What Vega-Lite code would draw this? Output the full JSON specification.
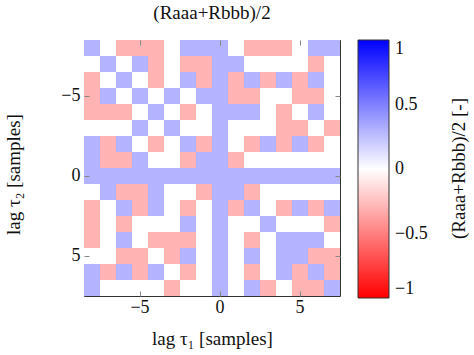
{
"$schema": "https://vega.github.io/schema/vega-lite/v6.json",
"width": 256, "height": 256,
"autosize": {"type": "none"},
"padding": {"left": 84, "top": 40, "right": 134, "bottom": 59},
"config": {"view": {"stroke": "#333", "strokeWidth": 1}, "font": "Liberation Serif",
 "axis": {"labelFont": "Liberation Serif", "titleFont": "Liberation Serif"},
 "legend": {"labelFont": "Liberation Serif", "titleFont": "Liberation Serif"}},
"title": {"text": "(Raaa+Rbbb)/2", "font": "Liberation Serif", "fontSize": 19, "fontWeight": "normal", "color": "#111", "offset": 17, "anchor": "middle"},
"data": {"values": [
{"t1":-8,"t2":-8,"r":0.3},{"t1":-7,"t2":-8,"r":0},{"t1":-6,"t2":-8,"r":-0.3},{"t1":-5,"t2":-8,"r":-0.3},{"t1":-4,"t2":-8,"r":-0.3},{"t1":-3,"t2":-8,"r":0},{"t1":-2,"t2":-8,"r":0.3},{"t1":-1,"t2":-8,"r":0.3},{"t1":0,"t2":-8,"r":0.3},{"t1":1,"t2":-8,"r":0},{"t1":2,"t2":-8,"r":-0.3},{"t1":3,"t2":-8,"r":-0.3},{"t1":4,"t2":-8,"r":-0.3},{"t1":5,"t2":-8,"r":0},{"t1":6,"t2":-8,"r":0.3},{"t1":7,"t2":-8,"r":0.3},
{"t1":-8,"t2":-7,"r":0},{"t1":-7,"t2":-7,"r":0.3},{"t1":-6,"t2":-7,"r":0},{"t1":-5,"t2":-7,"r":0.3},{"t1":-4,"t2":-7,"r":-0.3},{"t1":-3,"t2":-7,"r":0},{"t1":-2,"t2":-7,"r":-0.3},{"t1":-1,"t2":-7,"r":-0.3},{"t1":0,"t2":-7,"r":0.3},{"t1":1,"t2":-7,"r":0.3},{"t1":2,"t2":-7,"r":0},{"t1":3,"t2":-7,"r":0},{"t1":4,"t2":-7,"r":0},{"t1":5,"t2":-7,"r":0},{"t1":6,"t2":-7,"r":-0.3},{"t1":7,"t2":-7,"r":0},
{"t1":-8,"t2":-6,"r":-0.3},{"t1":-7,"t2":-6,"r":0},{"t1":-6,"t2":-6,"r":0.3},{"t1":-5,"t2":-6,"r":0},{"t1":-4,"t2":-6,"r":-0.3},{"t1":-3,"t2":-6,"r":0},{"t1":-2,"t2":-6,"r":0.3},{"t1":-1,"t2":-6,"r":-0.3},{"t1":0,"t2":-6,"r":0.3},{"t1":1,"t2":-6,"r":-0.3},{"t1":2,"t2":-6,"r":0.3},{"t1":3,"t2":-6,"r":-0.3},{"t1":4,"t2":-6,"r":0.3},{"t1":5,"t2":-6,"r":-0.3},{"t1":6,"t2":-6,"r":0.3},{"t1":7,"t2":-6,"r":0},
{"t1":-8,"t2":-5,"r":-0.3},{"t1":-7,"t2":-5,"r":0.3},{"t1":-6,"t2":-5,"r":0},{"t1":-5,"t2":-5,"r":0.3},{"t1":-4,"t2":-5,"r":0},{"t1":-3,"t2":-5,"r":0.3},{"t1":-2,"t2":-5,"r":0},{"t1":-1,"t2":-5,"r":0.3},{"t1":0,"t2":-5,"r":0.3},{"t1":1,"t2":-5,"r":-0.3},{"t1":2,"t2":-5,"r":-0.3},{"t1":3,"t2":-5,"r":0},{"t1":4,"t2":-5,"r":0},{"t1":5,"t2":-5,"r":-0.3},{"t1":6,"t2":-5,"r":-0.3},{"t1":7,"t2":-5,"r":0},
{"t1":-8,"t2":-4,"r":-0.3},{"t1":-7,"t2":-4,"r":-0.3},{"t1":-6,"t2":-4,"r":-0.3},{"t1":-5,"t2":-4,"r":0},{"t1":-4,"t2":-4,"r":0.3},{"t1":-3,"t2":-4,"r":0},{"t1":-2,"t2":-4,"r":-0.3},{"t1":-1,"t2":-4,"r":0},{"t1":0,"t2":-4,"r":0.3},{"t1":1,"t2":-4,"r":0.3},{"t1":2,"t2":-4,"r":0.3},{"t1":3,"t2":-4,"r":0},{"t1":4,"t2":-4,"r":-0.3},{"t1":5,"t2":-4,"r":0},{"t1":6,"t2":-4,"r":0.3},{"t1":7,"t2":-4,"r":0},
{"t1":-8,"t2":-3,"r":0},{"t1":-7,"t2":-3,"r":0},{"t1":-6,"t2":-3,"r":0},{"t1":-5,"t2":-3,"r":0.3},{"t1":-4,"t2":-3,"r":0},{"t1":-3,"t2":-3,"r":0.3},{"t1":-2,"t2":-3,"r":0},{"t1":-1,"t2":-3,"r":0},{"t1":0,"t2":-3,"r":0.3},{"t1":1,"t2":-3,"r":0},{"t1":2,"t2":-3,"r":0},{"t1":3,"t2":-3,"r":0},{"t1":4,"t2":-3,"r":-0.3},{"t1":5,"t2":-3,"r":-0.3},{"t1":6,"t2":-3,"r":0},{"t1":7,"t2":-3,"r":-0.3},
{"t1":-8,"t2":-2,"r":0.3},{"t1":-7,"t2":-2,"r":-0.3},{"t1":-6,"t2":-2,"r":0.3},{"t1":-5,"t2":-2,"r":0},{"t1":-4,"t2":-2,"r":-0.3},{"t1":-3,"t2":-2,"r":0},{"t1":-2,"t2":-2,"r":0.3},{"t1":-1,"t2":-2,"r":-0.3},{"t1":0,"t2":-2,"r":0.3},{"t1":1,"t2":-2,"r":0},{"t1":2,"t2":-2,"r":-0.3},{"t1":3,"t2":-2,"r":0.3},{"t1":4,"t2":-2,"r":-0.3},{"t1":5,"t2":-2,"r":0.3},{"t1":6,"t2":-2,"r":-0.3},{"t1":7,"t2":-2,"r":0},
{"t1":-8,"t2":-1,"r":0.3},{"t1":-7,"t2":-1,"r":-0.3},{"t1":-6,"t2":-1,"r":-0.3},{"t1":-5,"t2":-1,"r":0.3},{"t1":-4,"t2":-1,"r":0},{"t1":-3,"t2":-1,"r":0},{"t1":-2,"t2":-1,"r":-0.3},{"t1":-1,"t2":-1,"r":0.3},{"t1":0,"t2":-1,"r":0.3},{"t1":1,"t2":-1,"r":-0.3},{"t1":2,"t2":-1,"r":0},{"t1":3,"t2":-1,"r":0},{"t1":4,"t2":-1,"r":0},{"t1":5,"t2":-1,"r":0},{"t1":6,"t2":-1,"r":0},{"t1":7,"t2":-1,"r":0},
{"t1":-8,"t2":0,"r":0.3},{"t1":-7,"t2":0,"r":0.3},{"t1":-6,"t2":0,"r":0.3},{"t1":-5,"t2":0,"r":0.3},{"t1":-4,"t2":0,"r":0.3},{"t1":-3,"t2":0,"r":0.3},{"t1":-2,"t2":0,"r":0.3},{"t1":-1,"t2":0,"r":0.3},{"t1":0,"t2":0,"r":0.3},{"t1":1,"t2":0,"r":0.3},{"t1":2,"t2":0,"r":0.3},{"t1":3,"t2":0,"r":0.3},{"t1":4,"t2":0,"r":0.3},{"t1":5,"t2":0,"r":0.3},{"t1":6,"t2":0,"r":0.3},{"t1":7,"t2":0,"r":0.3},
{"t1":-8,"t2":1,"r":0},{"t1":-7,"t2":1,"r":0.3},{"t1":-6,"t2":1,"r":-0.3},{"t1":-5,"t2":1,"r":-0.3},{"t1":-4,"t2":1,"r":0.3},{"t1":-3,"t2":1,"r":0},{"t1":-2,"t2":1,"r":0},{"t1":-1,"t2":1,"r":-0.3},{"t1":0,"t2":1,"r":0.3},{"t1":1,"t2":1,"r":0.3},{"t1":2,"t2":1,"r":-0.3},{"t1":3,"t2":1,"r":0},{"t1":4,"t2":1,"r":0},{"t1":5,"t2":1,"r":0},{"t1":6,"t2":1,"r":0},{"t1":7,"t2":1,"r":0},
{"t1":-8,"t2":2,"r":-0.3},{"t1":-7,"t2":2,"r":0},{"t1":-6,"t2":2,"r":0.3},{"t1":-5,"t2":2,"r":-0.3},{"t1":-4,"t2":2,"r":0.3},{"t1":-3,"t2":2,"r":0},{"t1":-2,"t2":2,"r":-0.3},{"t1":-1,"t2":2,"r":0},{"t1":0,"t2":2,"r":0.3},{"t1":1,"t2":2,"r":-0.3},{"t1":2,"t2":2,"r":0.3},{"t1":3,"t2":2,"r":0},{"t1":4,"t2":2,"r":-0.3},{"t1":5,"t2":2,"r":0.3},{"t1":6,"t2":2,"r":-0.3},{"t1":7,"t2":2,"r":0.3},
{"t1":-8,"t2":3,"r":-0.3},{"t1":-7,"t2":3,"r":0},{"t1":-6,"t2":3,"r":-0.3},{"t1":-5,"t2":3,"r":0},{"t1":-4,"t2":3,"r":0},{"t1":-3,"t2":3,"r":0},{"t1":-2,"t2":3,"r":0.3},{"t1":-1,"t2":3,"r":0},{"t1":0,"t2":3,"r":0.3},{"t1":1,"t2":3,"r":0},{"t1":2,"t2":3,"r":0},{"t1":3,"t2":3,"r":0.3},{"t1":4,"t2":3,"r":0},{"t1":5,"t2":3,"r":0},{"t1":6,"t2":3,"r":0},{"t1":7,"t2":3,"r":-0.3},
{"t1":-8,"t2":4,"r":-0.3},{"t1":-7,"t2":4,"r":0},{"t1":-6,"t2":4,"r":0.3},{"t1":-5,"t2":4,"r":0},{"t1":-4,"t2":4,"r":-0.3},{"t1":-3,"t2":4,"r":-0.3},{"t1":-2,"t2":4,"r":-0.3},{"t1":-1,"t2":4,"r":0},{"t1":0,"t2":4,"r":0.3},{"t1":1,"t2":4,"r":0},{"t1":2,"t2":4,"r":-0.3},{"t1":3,"t2":4,"r":0},{"t1":4,"t2":4,"r":0.3},{"t1":5,"t2":4,"r":0.3},{"t1":6,"t2":4,"r":0.3},{"t1":7,"t2":4,"r":0},
{"t1":-8,"t2":5,"r":0},{"t1":-7,"t2":5,"r":0},{"t1":-6,"t2":5,"r":-0.3},{"t1":-5,"t2":5,"r":-0.3},{"t1":-4,"t2":5,"r":0},{"t1":-3,"t2":5,"r":-0.3},{"t1":-2,"t2":5,"r":0.3},{"t1":-1,"t2":5,"r":0},{"t1":0,"t2":5,"r":0.3},{"t1":1,"t2":5,"r":0},{"t1":2,"t2":5,"r":0.3},{"t1":3,"t2":5,"r":0},{"t1":4,"t2":5,"r":0.3},{"t1":5,"t2":5,"r":0.3},{"t1":6,"t2":5,"r":-0.3},{"t1":7,"t2":5,"r":-0.3},
{"t1":-8,"t2":6,"r":0.3},{"t1":-7,"t2":6,"r":-0.3},{"t1":-6,"t2":6,"r":0.3},{"t1":-5,"t2":6,"r":-0.3},{"t1":-4,"t2":6,"r":0.3},{"t1":-3,"t2":6,"r":0},{"t1":-2,"t2":6,"r":-0.3},{"t1":-1,"t2":6,"r":0},{"t1":0,"t2":6,"r":0.3},{"t1":1,"t2":6,"r":0},{"t1":2,"t2":6,"r":-0.3},{"t1":3,"t2":6,"r":0},{"t1":4,"t2":6,"r":0.3},{"t1":5,"t2":6,"r":-0.3},{"t1":6,"t2":6,"r":0.3},{"t1":7,"t2":6,"r":-0.3},
{"t1":-8,"t2":7,"r":0.3},{"t1":-7,"t2":7,"r":0},{"t1":-6,"t2":7,"r":0},{"t1":-5,"t2":7,"r":0},{"t1":-4,"t2":7,"r":0},{"t1":-3,"t2":7,"r":-0.3},{"t1":-2,"t2":7,"r":0},{"t1":-1,"t2":7,"r":0},{"t1":0,"t2":7,"r":0.3},{"t1":1,"t2":7,"r":0},{"t1":2,"t2":7,"r":0.3},{"t1":3,"t2":7,"r":-0.3},{"t1":4,"t2":7,"r":0},{"t1":5,"t2":7,"r":-0.3},{"t1":6,"t2":7,"r":-0.3},{"t1":7,"t2":7,"r":0.3}
]},
"layer": [
{
"mark": {"type": "rect"},
"encoding": {
"x": {"field": "t1", "type": "ordinal", "scale": {"domain": [-8,-7,-6,-5,-4,-3,-2,-1,0,1,2,3,4,5,6,7], "paddingInner": 0, "paddingOuter": 0},
 "axis": {"orient": "bottom", "values": [-5,0,5], "domain": false, "tickSize": -5, "tickColor": "#888", "labelPadding": 7, "labelAngle": 0, "labelFont": "Liberation Serif", "labelFontSize": 18, "labelColor": "#111", "labelExpr": "datum.value < 0 ? '\u2212' + abs(datum.value) : '' + datum.value", "title": "lag \u03c4\u2081 [samples]", "titleFont": "Liberation Serif", "titleFontSize": 19, "titleFontWeight": "normal", "titleColor": "#111", "titleY": 42, "titleBaseline": "middle"}},
"y": {"field": "t2", "type": "ordinal", "scale": {"domain": [-8,-7,-6,-5,-4,-3,-2,-1,0,1,2,3,4,5,6,7], "paddingInner": 0, "paddingOuter": 0},
 "axis": {"orient": "left", "values": [-5,0,5], "domain": false, "tickSize": -5, "tickColor": "#888", "labelPadding": 9, "labelFont": "Liberation Serif", "labelFontSize": 18, "labelColor": "#111", "labelExpr": "datum.value < 0 ? '\u2212' + abs(datum.value) : '' + datum.value", "title": "lag \u03c4\u2082 [samples]", "titleFont": "Liberation Serif", "titleFontSize": 19, "titleFontWeight": "normal", "titleColor": "#111", "titleAngle": 270, "titleX": -71, "titleY": 134, "titleBaseline": "middle", "titleAlign": "center"}},
"color": {"field": "r", "type": "quantitative", "scale": {"domain": [-1,0,1], "range": ["#ff0000","#ffffff","#0000ff"], "interpolate": "rgb"},
 "legend": {"orient": "none", "legendX": 274, "legendY": 0, "padding": 0, "direction": "vertical", "gradientLength": 258, "gradientThickness": 31, "gradientStrokeColor": "#333", "gradientStrokeWidth": 1, "values": [-1,-0.5,0,0.5,1], "title": null, "labelFont": "Liberation Serif", "labelFontSize": 18, "labelColor": "#111", "labelOffset": 6, "labelExpr": "datum.value < 0 ? '\u2212' + abs(datum.value) : '' + datum.value"}}
}
},
{
"mark": {"type": "rect", "opacity": 0},
"encoding": {
"x": {"field": "t1", "type": "ordinal", "axis": {"orient": "top", "values": [-5,0,5], "domain": false, "labels": false, "tickSize": -5, "tickColor": "#888", "title": null}},
"y": {"field": "t2", "type": "ordinal", "axis": {"orient": "right", "values": [-5,0,5], "domain": false, "labels": false, "tickSize": -5, "tickColor": "#888", "title": "(Raaa+Rbbb)/2 [-]", "titleFont": "Liberation Serif", "titleFontSize": 19, "titleFontWeight": "normal", "titleColor": "#111", "titleAngle": 270, "titleX": 118, "titleY": 128, "titleBaseline": "middle", "titleAlign": "center"}}
}
}
],
"resolve": {"axis": {"x": "independent", "y": "independent"}}
}
